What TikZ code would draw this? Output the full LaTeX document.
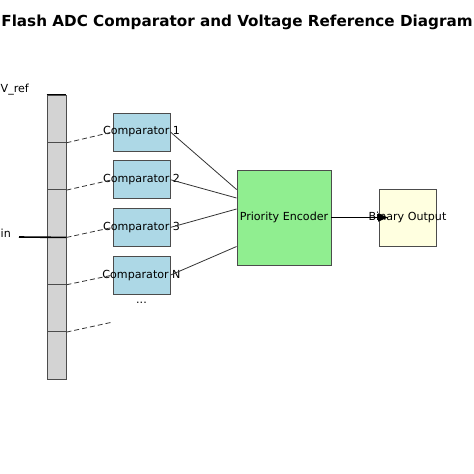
\documentclass[tikz,border=0pt]{standalone}
\usepackage{fontspec}
\setmainfont{DejaVu Sans}
\usepackage{tikz}
\usetikzlibrary{arrows.meta,positioning,calc}
\definecolor{ladgray}{HTML}{D3D3D3}
\definecolor{cmpblue}{HTML}{ADD8E6}
\definecolor{encgreen}{HTML}{90EE90}
\definecolor{outyellow}{HTML}{FFFFE0}
\tikzset{
  blk/.style={draw=black!70, line width=0.9pt, inner sep=0pt},
  seg/.style={blk, fill=ladgray, minimum width=19pt, minimum height=47.33pt},
  cmpbox/.style={blk, fill=cmpblue, minimum width=57pt, minimum height=38pt},
  tap/.style={dashed, dash pattern=on 5pt off 3pt, line width=0.8pt, black!80},
  wire/.style={line width=0.8pt, black!80},
  lbl/.style={font=\fontsize{11.1}{13}\selectfont, inner sep=0pt},
}

\begin{document}
\begin{tikzpicture}[x=1pt, y=-1pt]
  \useasboundingbox (0,0) rectangle (474,474);
  \node[font=\bfseries\fontsize{15.2}{17}\selectfont] (title) at (237,22)
    {Flash ADC Comparator and Voltage Reference Diagram};
  % reference ladder
  \foreach \i in {1,...,6} {
    \node[seg] (seg\i) at (56.5, {95+47.33*(\i-0.5)}) {};
  }
  \draw[line width=1.6pt] (seg1.north west) -- (seg1.north east);
  \node[lbl, anchor=west] (vref) at (0.5,90) {V\_ref};
  \coordinate (vin) at (19,237);
  \draw[line width=1.6pt] (vin) -- (seg3.south east);
  \node[lbl, anchor=west] (vinlbl) at (0.5,233) {in};
  % comparators
  \foreach \i/\t in {1/1, 2/2, 3/3, 4/N} {
    \node[cmpbox, label={[lbl]center:Comparator \t}] (cmp\i) at (141.5, {132+47.7*(\i-1)}) {};
  }
  \node[lbl, anchor=base] (more) at (141.5,303) {...};
  \coordinate (cmp5) at (113,322);
  \foreach \i in {1,...,4} \draw[tap] (seg\i.south east) -- (cmp\i.west);
  \draw[tap] (seg5.south east) -- (cmp5);
  % encoder and output
  \node[blk, fill=encgreen, minimum width=94pt, minimum height=95pt] (enc) at (284,217.5) {};
  \node[lbl] (enclbl) at (enc.center) {Priority Encoder};
  \foreach \i/\dy in {1/-28, 2/-19.5, 3/-8.5, 4/29}
    \draw[wire] (cmp\i.east) -- ($(enc.west)+(0,\dy)$);
  \node[blk, fill=outyellow, minimum width=57pt, minimum height=57pt,
        label={[lbl]center:Binary Output}] (out) at (407.5,217.5) {};
  \coordinate (outtip) at (388,217.5);
  \draw[-{Triangle[length=10pt,width=8pt]}, line width=1.6pt] (enc.east) -- (outtip);
\end{tikzpicture}
\end{document}
